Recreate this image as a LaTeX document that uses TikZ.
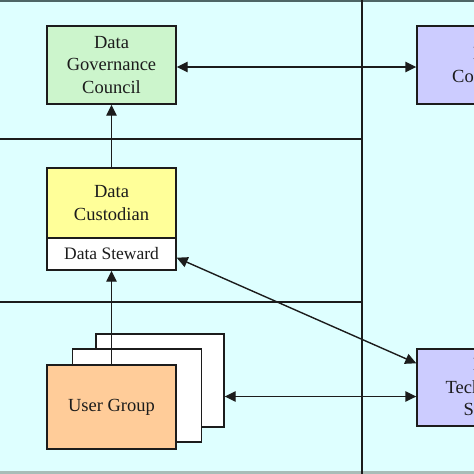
\documentclass[tikz,border=0pt]{standalone}
\usepackage{fontspec}
\setmainfont{Liberation Serif}
\usetikzlibrary{arrows.meta}
\definecolor{bgc}{HTML}{DEFFFF}
\definecolor{topband}{HTML}{4E6666}
\definecolor{botband}{HTML}{A8BDB8}
\definecolor{gboxc}{HTML}{CCF5CC}
\definecolor{yboxc}{HTML}{FFFF99}
\definecolor{pboxc}{HTML}{FFCC99}
\definecolor{lboxc}{HTML}{CCCCFF}
\definecolor{inkc}{HTML}{1C1C1C}
\tikzset{
  box/.style={draw=inkc, line width=1.4pt, inner sep=0pt, align=center, text=inkc,
    font=\fontsize{18.5}{22.5}\selectfont},
  sep/.style={draw=inkc, line width=1.3pt},
  conn/.style={draw=inkc, line width=1.4pt, -{Triangle[length=11pt,width=10.5pt]}},
  dconn/.style={draw=inkc, line width=1.4pt, {Triangle[length=11pt,width=10.5pt]}-{Triangle[length=11pt,width=10.5pt]}}
}
\begin{document}
\begin{tikzpicture}[x=1pt,y=-1pt]
\useasboundingbox (0,0) rectangle (474,474);
\clip (0,0) rectangle (474,474);
\fill[bgc] (0,0) rectangle (474,474);
\fill[topband] (0,0) rectangle (474,2);
\fill[botband] (0,470.5) rectangle (474,474);
% separators
\draw[sep] (0,139) -- (362,139);
\draw[sep] (0,302) -- (362,302);
\draw[sep] (362,0) -- (362,474);
% boxes
\node[box, fill=gboxc, minimum width=129pt, minimum height=78pt] (dgc) at (111.5,65) {Data\\Governance\\Council};
\node[box, fill=yboxc, minimum width=129pt, minimum height=70pt] (cust) at (111.5,203) {Data\\Custodian};
\node[box, fill=white, minimum width=129pt, minimum height=32pt, font=\fontsize{17.5}{20}\selectfont] (stew) at (111.5,254) {Data Steward};
\node[box, fill=white, minimum width=128pt, minimum height=93pt] (stackc) at (160,380.5) {};
\node[box, fill=white, minimum width=128.5pt, minimum height=93pt] (stackb) at (137,395.5) {};
\node[box, fill=pboxc, minimum width=129pt, minimum height=84pt] (ug) at (111.5,407) {User Group};
\node[box, fill=lboxc, minimum width=129pt, minimum height=78pt] (itc) at (481.5,65) {IT\\Council};
\node[box, fill=lboxc, minimum width=129pt, minimum height=77pt] (its) at (481.5,387.5) {IT\\Technical\\Staff};
% connectors
\draw[conn] (cust.north) -- (dgc.south);
\draw[conn] (ug.north) -- (stew.south);
\coordinate (a1) at ([yshift=-2pt]dgc.east);
\draw[dconn] (a1) -- (a1 -| itc.west);
\coordinate (a2) at ([yshift=-3.7pt]stew.east);
\coordinate (a3) at ([yshift=-15pt]its.north west);
\draw[dconn] (a2) -- (a3);
\coordinate (a4) at ([yshift=-16pt]stackc.east);
\draw[dconn] (a4) -- (a4 -| its.west);
\end{tikzpicture}
\end{document}
